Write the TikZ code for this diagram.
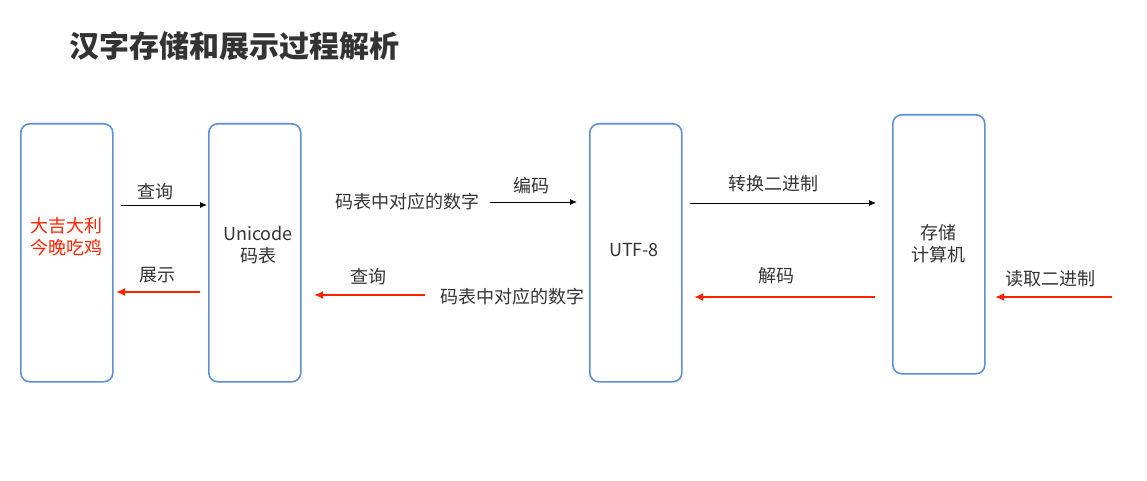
\documentclass[tikz,border=0pt]{standalone}
\usepackage{fontspec}
\setmainfont{Noto Sans CJK SC}
\usetikzlibrary{arrows.meta}
\definecolor{bbl}{HTML}{5B8FD9}
\definecolor{rd}{HTML}{FF2200}
\definecolor{tx}{HTML}{333333}
\begin{document}
\begin{tikzpicture}[x=1pt,y=-1pt,
  box/.style={draw=bbl,line width=1.6pt,rounded corners=9pt,minimum width=92pt,anchor=north west,inner sep=0pt},
  lbl/.style={font=\fontsize{18}{22}\selectfont,text=tx,inner sep=0pt},
  blk/.style={-{Latex[length=7pt,width=6pt]},line width=0.9pt},
  red/.style={-{Latex[length=9pt,width=8pt]},draw=rd,line width=2.6pt}]
\useasboundingbox (0,0) rectangle (1147,481);
\node[font=\fontsize{30}{34}\selectfont\bfseries,text=tx,anchor=west] (title) at (66,46) {汉字存储和展示过程解析};
\node[box,minimum height=258pt] (b1) at (20,123) {};
\node[box,minimum height=258pt] (b2) at (208,123) {};
\node[box,minimum height=258pt] (b3) at (589,123) {};
\node[box,minimum height=259pt] (b4) at (892,114) {};
\node[lbl,text=rd,align=center] (t1) at (66,237) {大吉大利\\今晚吃鸡};
\node[lbl,align=center] (t2) at (258,245) {Unicode\\码表};
\node[lbl] (t3) at (634,250) {UTF-8};
\node[lbl,align=center] (t4) at (938,244) {存储\\计算机};
% arrows
\coordinate (a1s) at (121,205); \coordinate (a1e) at (207,205);
\draw[blk] (a1s) -- (a1e);
\node[lbl] (l1) at (155,192) {查询};
\coordinate (a2s) at (200,292); \coordinate (a2e) at (116,292);
\draw[red] (a2s) -- (a2e);
\node[lbl] (l2) at (157,275) {展示};
\node[lbl] (l3) at (407,202) {码表中对应的数字};
\node[lbl] (l4) at (531,186) {编码};
\coordinate (a3s) at (490,202); \coordinate (a3e) at (577,202);
\draw[blk] (a3s) -- (a3e);
\coordinate (a4s) at (425,295); \coordinate (a4e) at (314,295);
\draw[red] (a4s) -- (a4e);
\node[lbl] (l5) at (368,277) {查询};
\node[lbl] (l6) at (512,297) {码表中对应的数字};
\coordinate (a5s) at (690,203); \coordinate (a5e) at (876,203);
\draw[blk] (a5s) -- (a5e);
\node[lbl] (l7) at (773,184) {转换二进制};
\coordinate (a6s) at (875,297); \coordinate (a6e) at (694,297);
\draw[red] (a6s) -- (a6e);
\node[lbl] (l8) at (776,276) {解码};
\node[lbl] (l9) at (1050,279) {读取二进制};
\coordinate (a7s) at (1112,297); \coordinate (a7e) at (995,297);
\draw[red] (a7s) -- (a7e);
\end{tikzpicture}
\end{document}
